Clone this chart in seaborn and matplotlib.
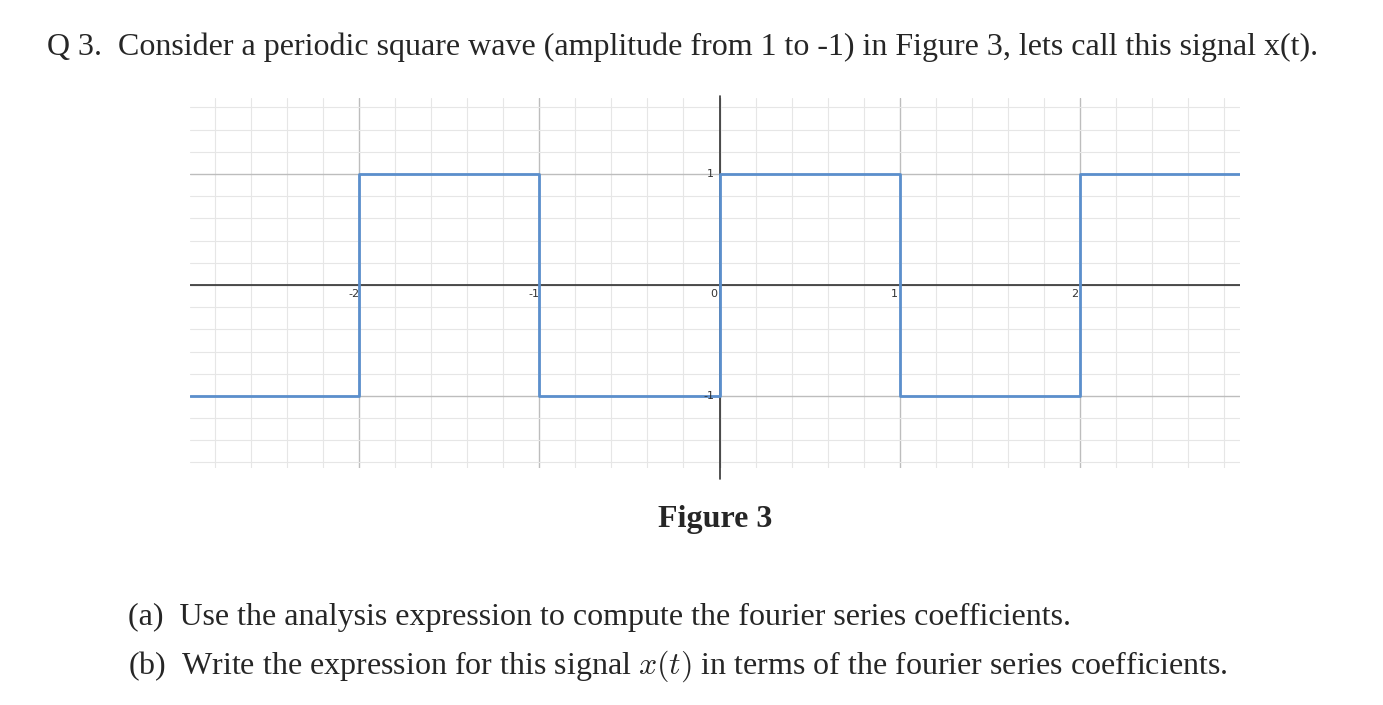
import numpy as np
import matplotlib
matplotlib.use("Agg")
import matplotlib.pyplot as plt
import seaborn as sns
import pandas as pd

# data
t_edges = [-2.94, -2, -1, 0, 1, 2, 2.89]
x_vals = [-1, 1, -1, 1, -1, 1, 1]
x_tick_vals = [-2, -1, 0, 1, 2]
x_tick_labels = ["-2", "-1", "0", "1", "2"]
y_tick_vals = [1, -1]
y_tick_labels = ["1", "-1"]

sns.set_style("white")
plt.rcParams['font.family'] = ['Liberation Serif', 'DejaVu Serif']
plt.rcParams['mathtext.fontset'] = 'cm'

fig = plt.figure(figsize=(13.83, 7.05), dpi=100)
W, H = 1383, 705
x0, x1, yt, yb = 190, 1240, 98, 468
ax = fig.add_axes([x0 / W, 1 - yb / H, (x1 - x0) / W, (yb - yt) / H])
xmin, xmax = -2.94, 2.89
ymin, ymax = -1.65, 1.685
ax.set_xlim(xmin, xmax)
ax.set_ylim(ymin, ymax)

# grid
for gx in np.arange(-2.8, 2.81, 0.2):
    major = abs(gx - round(gx)) < 1e-6
    ax.axvline(gx, color='#bdbdbd' if major else '#e6e6e6', lw=1.0 if major else 0.8, zorder=0)
for gy in np.arange(-1.6, 1.61, 0.2):
    major = abs(gy - round(gy)) < 1e-6
    ax.axhline(gy, color='#bdbdbd' if major else '#e6e6e6', lw=1.0 if major else 0.8, zorder=0)
ax.axhline(0, color='#333333', lw=1.2, zorder=1)
ax.plot([0, 0], [ymin - 0.1, ymax + 0.02], color='#333333', lw=1.2, zorder=1, clip_on=False)

df = pd.DataFrame({"t": t_edges, "x": x_vals})
sns.lineplot(data=df, x="t", y="x", ax=ax, drawstyle='steps-post', estimator=None,
             sort=False, color='#5b8fcc', lw=2, zorder=3)

for v, lab in zip(x_tick_vals, x_tick_labels):
    ax.text(v - 0.03, -0.04, lab, fontsize=8, family='DejaVu Sans', color='#333333',
            ha='center', va='top', zorder=4)
for v, lab in zip(y_tick_vals, y_tick_labels):
    ax.text(-0.03, v, lab, fontsize=8, family='DejaVu Sans', color='#333333',
            ha='right', va='center', zorder=4)

ax.set_xticks([]); ax.set_yticks([])
ax.set_xlabel(""); ax.set_ylabel("")
for s in ax.spines.values():
    s.set_visible(False)

fig.text(47 / W, 1 - 47 / H, "Q 3.  Consider a periodic square wave (amplitude from 1 to -1) in Figure 3, lets call this signal x(t).",
         fontsize=23, ha='left', va='center')
fig.text(715 / W, 1 - 519 / H, "Figure 3", fontsize=23, fontweight='bold', ha='center', va='center')
fig.text(128 / W, 1 - 617 / H, "(a)  Use the analysis expression to compute the fourier series coefficients.",
         fontsize=23, ha='left', va='center')
fig.text(128 / W, 1 - 666 / H, r"(b)  Write the expression for this signal $x(t)$ in terms of the fourier series coefficients.",
         fontsize=23, ha='left', va='center')

fig.savefig("out.png", dpi=100, facecolor='white')
